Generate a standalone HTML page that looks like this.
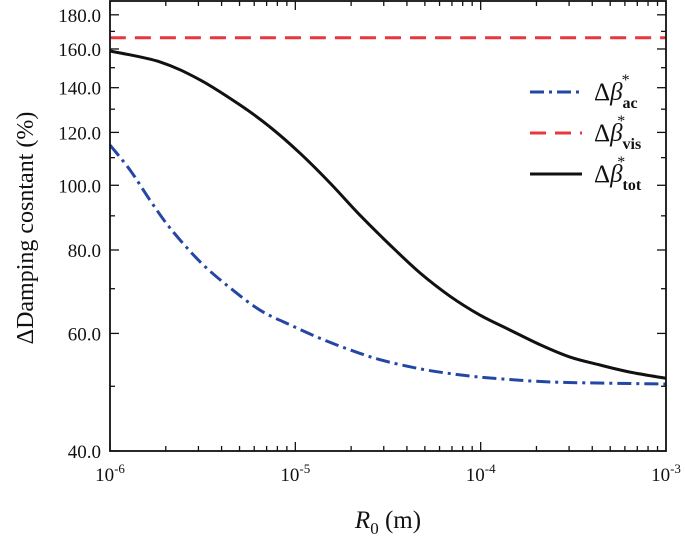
<!DOCTYPE html>
<html><head><meta charset="utf-8"><style>
body{margin:0;background:#fff}
text{font-family:"Liberation Serif",serif;fill:#111}
</style></head><body>
<svg id="c" width="685" height="538" xmlns="http://www.w3.org/2000/svg"></svg>
<script>
const xTickExps=[-6,-5,-4,-3];
const yTickVals=[40,60,80,100,120,140,160,180];
const yTickLabels=["40.0","60.0","80.0","100.0","120.0","140.0","160.0","180.0"];
const visLogX=[-6,-3];
const visVals=[166.3,166.3];
const totLogX=[-6,-5.73,-5.514,-5.298,-5.137,-4.975,-4.813,-4.651,-4.489,-4.327,-4.165,-4.003,-3.841,-3.679,-3.518,-3.356,-3.194,-3];
const totVals=[158.9,153.0,143.8,131.9,122.3,111.7,100.8,90.2,81.4,73.9,68.2,63.9,60.7,57.7,55.3,53.8,52.5,51.4];
const acLogX=[-6,-5.892,-5.784,-5.676,-5.514,-5.352,-5.19,-5.029,-4.867,-4.705,-4.543,-4.327,-4.111,-3.895,-3.571,-3];
const acVals=[114.9,105.4,95.0,86.3,76.8,70.2,65.0,61.8,59.0,56.7,54.8,53.1,52.0,51.3,50.7,50.4];

const NS="http://www.w3.org/2000/svg";
const svg=document.getElementById('c');
const L=110,R=666,T=1,B=451;
const X=lx=>L+(lx+6)*(R-L)/3;
const Y=v=>B-290*Math.log(v/40);
function el(t,a,p){const e=document.createElementNS(NS,t);for(const k in a)e.setAttribute(k,a[k]);(p||svg).appendChild(e);return e;}

for(let d=-6;d<-3;d++){for(let m=1;m<10;m++){const x=X(d+Math.log10(m));const len=m===1?9:5;
 const t=el('line',{x1:x,x2:x,y1:B,y2:B-len,stroke:'#111','stroke-width':1.3});
 
 const t2=el('line',{x1:x,x2:x,y1:T,y2:T+len,stroke:'#111','stroke-width':1.3});
 }}
for(let v=40;v<=185;v+=10){const y=Y(v);const major=v%20===0;const len=major?9:5;
 const t=el('line',{x1:L,x2:L+len,y1:y,y2:y,stroke:'#111','stroke-width':1.3});
 
 const t2=el('line',{x1:R,x2:R-len,y1:y,y2:y,stroke:'#111','stroke-width':1.3});
 }
yTickVals.forEach((v,i)=>{const t=el('text',{x:101,y:Y(v)+7,'text-anchor':'end','font-size':19});t.textContent=yTickLabels[i];
 });
xTickExps.forEach(e=>{const t=el('text',{x:X(e),y:481,'text-anchor':'middle','font-size':19});
 t.innerHTML='10<tspan dy="-8" font-size="13">'+e+'</tspan>';
 });

function series(lx,vals,stroke,dash,name){
 const P=lx.map((x,i)=>[X(x),Y(vals[i])]);
 let d='M'+P[0][0].toFixed(1)+','+P[0][1].toFixed(1);
 for(let i=0;i<P.length-1;i++){const p0=P[Math.max(0,i-1)],p1=P[i],p2=P[i+1],p3=P[Math.min(P.length-1,i+2)];
  const c1=[p1[0]+(p2[0]-p0[0])/6,p1[1]+(p2[1]-p0[1])/6],c2=[p2[0]-(p3[0]-p1[0])/6,p2[1]-(p3[1]-p1[1])/6];
  d+='C'+c1.map(v=>v.toFixed(1)).join(',')+' '+c2.map(v=>v.toFixed(1)).join(',')+' '+p2.map(v=>v.toFixed(1)).join(',');}
 const p=el('path',{d:d,fill:'none',stroke:stroke,'stroke-width':3,'stroke-dasharray':dash});
 }
series(visLogX,visVals,'#e8373f','16,9','series-vis');
series(acLogX,acVals,'#2447a6','14,5,3,5','series-ac');
series(totLogX,totVals,'#111','none','series-tot');

const frame=el('rect',{x:L,y:T,width:R-L,height:B-T,fill:'none',stroke:'#111','stroke-width':1.8});


const leg=[['#2447a6','14,5,3,5','ac',92],['#e8373f','16,9','vis',133],['#111','none','tot',174]];
leg.forEach(l=>{const g=el('g',{});
 el('line',{x1:530,x2:582,y1:l[3],y2:l[3],stroke:l[0],'stroke-width':3,'stroke-dasharray':l[1]},g);
 const t=el('text',{x:594,y:l[3]+8,'font-size':25},g);
 t.innerHTML='Δ<tspan font-style="italic">β</tspan><tspan dy="8" font-size="16" font-weight="bold">'+l[2]+'</tspan><tspan dx="-'+(l[2].length*8)+'" dy="-23" font-size="16">*</tspan>';});

const yt=el('text',{transform:'translate(33,228) rotate(-90)','text-anchor':'middle','font-size':24});yt.textContent='ΔDamping cosntant (%)';

const xt=el('text',{x:388,y:528,'text-anchor':'middle','font-size':25});
xt.innerHTML='<tspan font-style="italic">R</tspan><tspan dy="6" font-size="17">0</tspan><tspan dy="-6"> (m)</tspan>';

</script>
</body></html>
